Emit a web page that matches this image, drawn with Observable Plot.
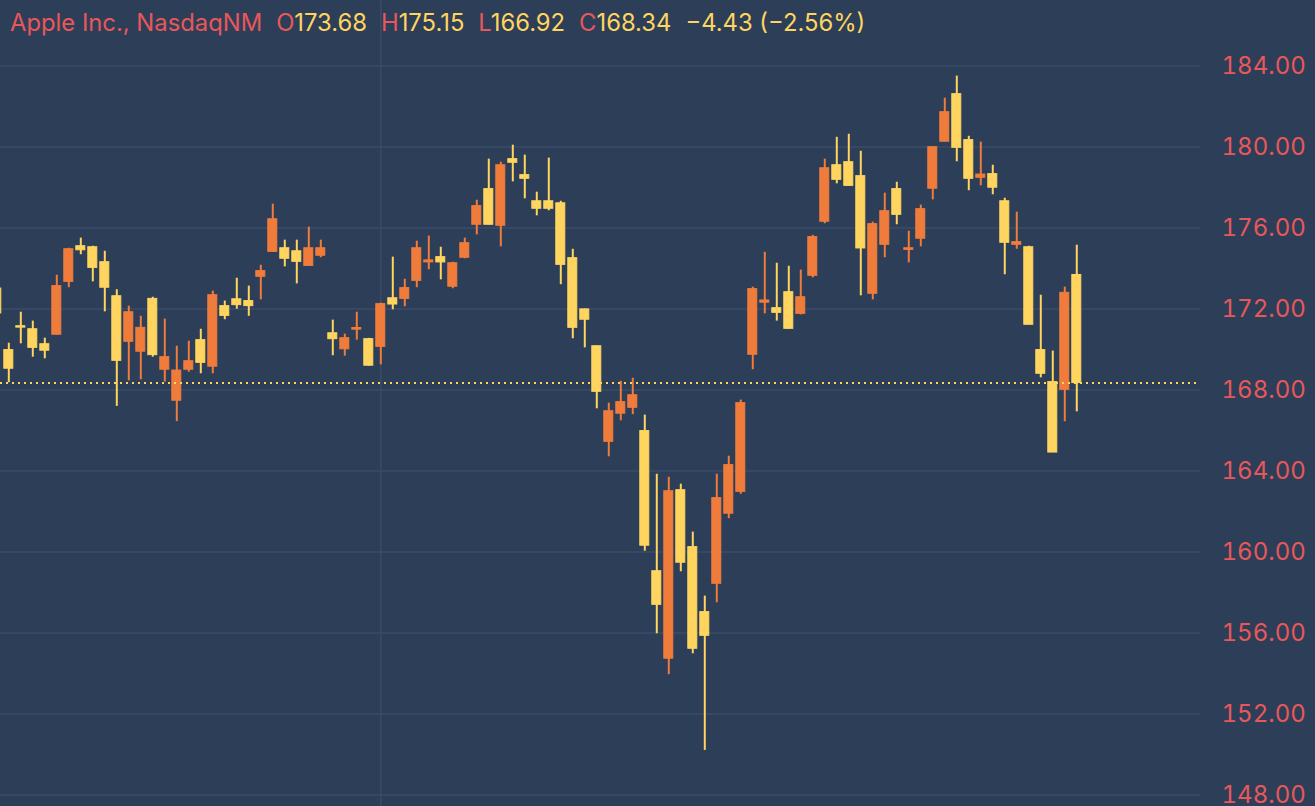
<!DOCTYPE html>
<html>
<head>
<meta charset="utf-8">
<script src="https://cdn.jsdelivr.net/npm/d3@7"></script>
<script src="https://cdn.jsdelivr.net/npm/@observablehq/plot@0.6"></script>
<style>
  html, body { margin: 0; padding: 0; background: #2c3e58; overflow: hidden; }
  #wrap { position: relative; width: 1315px; height: 806px; }
  #header { position: absolute; left: 10px; top: 9px; font-family: Inter, "Liberation Sans", sans-serif; font-size: 23.8px; line-height: 28px; color: #ffd55f; white-space: nowrap; }
  #header .r { color: #e8575a; }
  #header .g { margin-left: 14px; }
</style>
</head>
<body>
<div id="wrap">
  <div id="chart"></div>
  <div id="header"></div>
</div>
<script>
// Candle values (index 0 is the partially clipped candle at the left edge)
const opens = [173.01,169.97,171.15,171.0,170.26,170.73,173.34,175.1,175.05,174.31,172.63,170.38,169.89,172.5,169.0,167.47,169.0,170.46,169.15,172.14,172.48,172.39,173.59,174.82,175.0,174.85,174.13,174.63,170.8,170.01,170.98,170.51,170.13,172.53,172.5,173.39,174.3,174.56,173.1,174.53,176.16,177.92,176.11,179.4,178.61,177.32,177.32,177.22,174.51,171.98,170.16,165.44,166.83,167.12,165.97,159.05,154.73,163.05,160.24,157.03,158.43,161.89,162.97,169.74,172.31,172.04,172.83,171.76,173.64,176.31,179.1,179.25,178.56,172.75,175.17,177.92,174.92,175.47,177.94,180.26,182.61,180.34,178.48,178.66,177.32,175.17,175.05,169.97,168.39,168.01,173.68];
const highs = [173.2,170.31,171.84,171.4,170.56,173.67,175.0,175.5,175.1,174.85,172.95,172.14,171.64,172.58,171.5,170.16,170.41,171.0,172.88,172.39,173.52,173.13,174.16,177.18,175.4,175.4,176.04,175.4,171.45,170.76,171.84,170.55,172.29,174.56,173.47,175.35,175.6,175.05,174.31,175.5,177.37,179.4,179.25,180.09,179.6,177.77,179.45,177.32,174.95,172.0,170.18,167.35,168.43,168.58,166.76,163.84,163.69,163.35,160.98,157.82,163.84,164.73,167.5,173.08,174.8,174.26,174.11,173.92,175.64,179.4,180.48,180.63,179.79,176.29,177.72,178.26,175.84,177.13,179.99,182.41,183.5,180.53,180.24,179.1,177.47,176.78,175.1,172.68,169.92,173.08,175.15];
const lows = [171.5,168.36,170.28,169.62,169.54,170.7,173.05,174.68,173.34,171.86,167.19,168.45,168.5,169.62,168.39,166.44,168.88,168.8,168.8,171.47,171.99,171.64,172.45,174.8,174.08,173.24,174.1,174.53,169.69,169.67,170.46,169.18,169.24,171.96,172.11,173.05,173.94,173.44,173.0,174.48,175.66,176.15,175.07,178.28,177.44,176.6,176.85,173.2,170.53,170.08,167.07,164.7,166.48,166.78,160.04,155.96,153.94,159.02,154.97,150.2,157.49,161.64,162.85,169.0,171.76,171.4,171.0,171.71,173.54,176.21,178.18,178.08,172.65,172.45,174.53,176.16,174.28,175.07,177.39,180.26,179.27,177.84,178.08,177.64,173.69,174.95,171.22,168.6,164.91,166.43,166.92];
const closes = [171.78,169.05,171.08,170.08,169.94,173.13,174.95,174.9,174.03,173.05,169.44,171.84,171.07,169.72,169.62,168.96,169.42,169.34,172.68,171.66,172.19,172.14,173.87,176.43,174.48,174.33,175.0,175.0,170.51,170.56,171.06,169.2,172.24,172.22,173.03,175.0,174.4,174.3,174.26,175.25,177.08,176.16,179.1,179.22,178.43,176.95,176.95,174.18,171.07,171.47,167.91,166.95,167.4,167.74,160.31,157.39,163.0,159.47,155.22,155.86,162.66,164.29,167.35,172.98,172.42,171.81,171.02,172.58,175.55,178.95,178.38,178.08,174.99,176.19,176.83,176.65,175.0,176.93,179.99,181.72,179.96,178.43,178.64,177.99,175.27,175.3,171.22,168.8,164.91,172.8,168.34];
const yTicks = [148, 152, 156, 160, 164, 168, 172, 176, 180, 184];
const headerName = "Apple Inc., NasdaqNM";
const headerChange = "\u22124.43 (\u22122.56%)";

const BG = "#2c3e58", GRID = "#3a4c67", YEL = "#ffd55f", ORA = "#f07c3c", RED = "#e8575a";

const rows = opens.map((o, k) => ({ i: k - 1, open: o, high: highs[k], low: lows[k], close: closes[k] }));
const col = d => (d.close < d.open ? YEL : ORA);
const last = rows[rows.length - 1];

const chart = Plot.plot({
  width: 1315, height: 806,
  marginTop: 0, marginBottom: 0, marginLeft: 0, marginRight: 115,
  style: { background: BG, color: RED, fontFamily: "Inter, 'Liberation Sans', sans-serif", fontSize: "24px" },
  x: { domain: [-0.692, 99.31], axis: null },
  y: { domain: [147.43, 187.235], axis: null },
  marks: [
    Plot.gridY(yTicks, { stroke: GRID, strokeOpacity: 1, strokeWidth: 1.5 }),
    Plot.ruleX([31], { stroke: GRID, strokeWidth: 1.5 }),
    Plot.ruleX(rows, { x: "i", y1: "low", y2: "high", stroke: col, strokeWidth: 2 }),
    Plot.rect(rows, { x1: d => d.i - 0.375, x2: d => d.i + 0.375, y1: "open", y2: "close", fill: col, stroke: col, strokeWidth: 1 }),
    Plot.ruleY([last.close], { stroke: YEL, strokeWidth: 2, strokeDasharray: "2,4" }),
    Plot.axisY(yTicks, { anchor: "right", tickSize: 0, tickPadding: 21, tickFormat: d => d.toFixed(2), fill: RED })
  ]
});
document.getElementById("chart").appendChild(chart);

const h = document.getElementById("header");
const f = v => v.toFixed(2);
h.innerHTML = `<span class="r">${headerName}</span>` +
  `<span class="g"><span class="r">O</span>${f(last.open)}</span>` +
  `<span class="g"><span class="r">H</span>${f(last.high)}</span>` +
  `<span class="g"><span class="r">L</span>${f(last.low)}</span>` +
  `<span class="g"><span class="r">C</span>${f(last.close)}</span>` +
  `<span class="g">${headerChange}</span>`;
</script>
</body>
</html>
